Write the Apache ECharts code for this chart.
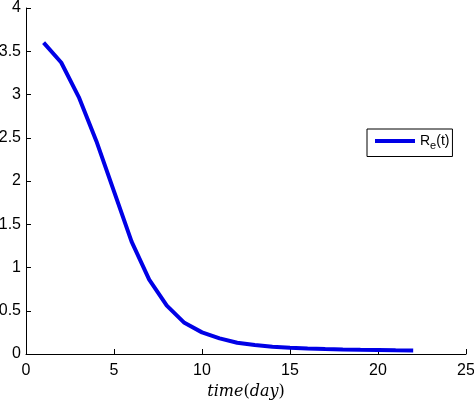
<!DOCTYPE html>
<html>
<head>
<meta charset="utf-8">
<script src="https://cdn.jsdelivr.net/npm/echarts@6/dist/echarts.min.js"></script>
<style>html,body{margin:0;padding:0;background:#fff}#c{width:474px;height:400px}</style>
</head>
<body>
<div id="c"></div>
<script>
var days = [1,2,3,4,5,6,7,8,9,10,11,12,13,14,15,16,17,18,19,20,21,22];
var reValues = [3.60,3.37,2.97,2.46,1.88,1.30,0.86,0.56,0.36,0.25,0.18,0.13,0.105,0.085,0.072,0.064,0.057,0.052,0.048,0.045,0.042,0.040];
var xTicks = [0,5,10,15,20,25];
var yTicks = [0,0.5,1,1.5,2,2.5,3,3.5,4];

var chart = echarts.init(document.getElementById('c'));
var font = 'Liberation Sans, Arial, sans-serif';
chart.setOption({
  animation: false,
  grid: {left: 26, right: 8, top: 8, bottom: 46, containLabel: false, outerBoundsMode: 'none'},
  legend: {
    left: 367, top: 129,
    borderColor: '#000', borderWidth: 1,
    padding: [5, 3, 5, 8],
    itemWidth: 40, itemHeight: 4, itemGap: 4,
    icon: 'rect',
    data: [{name: 'Re(t)'}],
    formatter: function () { return '{a|R}{b|e}{a|(t)}'; },
    textStyle: {
      color: '#000',
      rich: {
        a: {fontFamily: font, fontSize: 14, color: '#000'},
        b: {fontFamily: font, fontSize: 11, color: '#000', padding: [10, 0, 0, 0]}
      }
    }
  },
  xAxis: {
    type: 'value', min: 0, max: 25, interval: 5,
    name: '{i|time}{n|(}{i|day}{n|)}',
    nameLocation: 'middle', nameGap: 28,
    nameTextStyle: {
      rich: {
        i: {fontFamily: 'DejaVu Serif, serif', fontStyle: 'italic', fontSize: 16, color: '#000'},
        n: {fontFamily: 'DejaVu Serif, serif', fontSize: 16, color: '#000'}
      }
    },
    axisLine: {lineStyle: {color: '#000', width: 1}},
    axisTick: {inside: true, length: 5, lineStyle: {color: '#000'}},
    axisLabel: {color: '#000', fontFamily: font, fontSize: 16, margin: 9,
      formatter: function (v) { return xTicks.indexOf(v) >= 0 ? String(v) : ''; }},
    splitLine: {show: false}
  },
  yAxis: {
    type: 'value', min: 0, max: 4, interval: 0.5,
    axisLine: {show: true, lineStyle: {color: '#000', width: 1}},
    axisTick: {show: true, inside: true, length: 5, lineStyle: {color: '#000'}},
    axisLabel: {color: '#000', fontFamily: font, fontSize: 16, margin: 5,
      formatter: function (v) { return yTicks.indexOf(v) >= 0 ? String(v) : ''; }},
    splitLine: {show: false}
  },
  series: [{
    name: 'Re(t)', type: 'line', showSymbol: false,
    data: days.map(function (d, i) { return [d, reValues[i]]; }),
    lineStyle: {color: '#0000e6', width: 4},
    itemStyle: {color: '#0000e6'}
  }]
});
</script>
</body>
</html>
